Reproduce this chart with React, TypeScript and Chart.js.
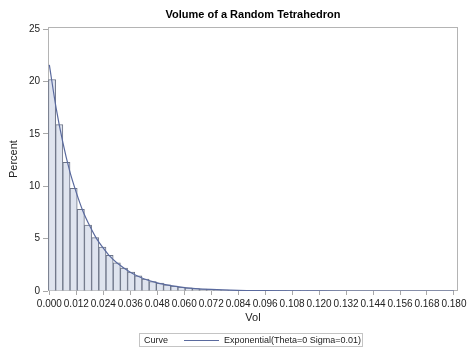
import React, { useEffect, useRef } from "react";
import { Chart, registerables } from "chart.js";

Chart.register(...registerables);

const titleText = "Volume of a Random Tetrahedron";
const xAxisTitle = "Vol";
const yAxisTitle = "Percent";
const legendTitle = "Curve";
const curveLabel = "Exponential(Theta=0 Sigma=0.01)";

// histogram bin midpoints (Vol) and percents
const binMidpoints = [
  0.0012, 0.0044, 0.0076, 0.0108, 0.014, 0.0172, 0.0204, 0.0236, 0.0268, 0.03,
  0.0332, 0.0364, 0.0396, 0.0428, 0.046, 0.0492, 0.0524, 0.0556, 0.0588, 0.062,
  0.0652, 0.0684, 0.0716, 0.0748, 0.078, 0.0812, 0.0844, 0.0876, 0.0908, 0.094,
  0.0972, 0.1004, 0.1036, 0.1068, 0.11, 0.1132,
];
const binPercents = [
  20.2, 15.9, 12.3, 9.8, 7.8, 6.3, 5.1, 4.2, 3.4, 2.7,
  2.2, 1.8, 1.45, 1.15, 0.9, 0.75, 0.6, 0.47, 0.38, 0.3,
  0.24, 0.19, 0.15, 0.12, 0.09, 0.07, 0.055, 0.045, 0.035, 0.027,
  0.02, 0.015, 0.012, 0.009, 0.007, 0.005,
];

// fitted exponential curve
const curveX = [
  0, 0.003, 0.006, 0.009, 0.012, 0.015, 0.018, 0.021, 0.024, 0.027, 0.03,
  0.036, 0.042, 0.048, 0.054, 0.06, 0.072, 0.084, 0.096, 0.108, 0.12, 0.15, 0.18,
];
const curveY = [
  21.6, 17.5, 14.2, 11.5, 9.4, 7.6, 6.2, 5.0, 4.1, 3.3, 2.7,
  1.8, 1.17, 0.77, 0.51, 0.33, 0.15, 0.06, 0.03, 0.01, 0.004, 0.0, 0.0,
];

const xTickValues = [
  0, 0.012, 0.024, 0.036, 0.048, 0.06, 0.072, 0.084, 0.096, 0.108, 0.12,
  0.132, 0.144, 0.156, 0.168, 0.18,
];
const yTickValues = [0, 5, 10, 15, 20, 25];

const FONT = "'Liberation Sans', Arial, sans-serif";

const framePlugin = {
  id: "frame",
  beforeDatasetsDraw(chart: any) {
    const { ctx, chartArea } = chart;
    const { left, top, right, bottom } = chartArea;
    ctx.save();
    ctx.strokeStyle = "#b4b4b4";
    ctx.lineWidth = 1;
    ctx.strokeRect(Math.round(left) + 0.5, Math.round(top) + 0.5, Math.round(right - left) - 1, Math.round(bottom - top) - 1);
    ctx.restore();
  },
};

export default function App() {
  const canvasRef = useRef<HTMLCanvasElement | null>(null);

  useEffect(() => {
    if (!canvasRef.current) return;
    const chart = new Chart(canvasRef.current, {
      type: "bar",
      data: {
        datasets: [
          {
            type: "line",
            label: curveLabel,
            data: curveX.map((x, i) => ({ x, y: curveY[i] })),
            borderColor: "#5a6a9e",
            borderWidth: 1.2,
            pointRadius: 0,
            cubicInterpolationMode: "monotone",
            fill: false,
            order: 0,
          } as any,
          {
            type: "bar",
            label: "Percent",
            data: binMidpoints.map((x, i) => ({ x, y: binPercents[i] })),
            backgroundColor: "#dfe4ef",
            borderColor: "#6c7487",
            borderWidth: 1,
            barPercentage: 1,
            categoryPercentage: 1,
            order: 1,
          } as any,
        ],
      },
      options: {
        animation: false,
        responsive: true,
        maintainAspectRatio: false,
        events: [],
        layout: { padding: { left: 0, right: 16, top: 0, bottom: 0 } },
        plugins: {
          legend: { display: false },
          tooltip: { enabled: false },
          title: {
            display: true,
            fullSize: false,
            text: titleText,
            color: "#000",
            font: { family: FONT, size: 11, weight: "bold" },
            padding: { top: 8, bottom: 6 },
          },
        },
        scales: {
          x: {
            type: "linear",
            min: -0.0006,
            max: 0.1818,
            offset: false,
            afterBuildTicks: (s: any) => {
              s.ticks = xTickValues.map((v) => ({ value: v }));
            },
            afterFit: (s: any) => {
              s.height = 64;
            },
            ticks: {
              callback: (v: any) => Number(v).toFixed(3),
              autoSkip: false,
              maxRotation: 0,
              minRotation: 0,
              color: "#222",
              font: { family: FONT, size: 10 },
              padding: 3,
            },
            grid: {
              display: true,
              drawOnChartArea: false,
              drawTicks: true,
              tickLength: 4,
              color: "#a8a8a8",
              offset: false,
            },
            border: { display: false },
            title: {
              display: true,
              text: xAxisTitle,
              color: "#222",
              font: { family: FONT, size: 11 },
              padding: { top: 0, bottom: 30 },
            },
          },
          y: {
            type: "linear",
            min: 0,
            max: 25.2,
            afterBuildTicks: (s: any) => {
              s.ticks = yTickValues.map((v) => ({ value: v }));
            },
            afterFit: (s: any) => {
              s.width = 48;
            },
            ticks: {
              color: "#222",
              font: { family: FONT, size: 10 },
              padding: 3,
            },
            grid: {
              display: true,
              drawOnChartArea: false,
              drawTicks: true,
              tickLength: 5,
              color: "#a8a8a8",
            },
            border: { display: false },
            title: {
              display: true,
              text: yAxisTitle,
              color: "#222",
              font: { family: FONT, size: 11 },
              padding: { top: 7, bottom: 0 },
            },
          },
        },
      } as any,
      plugins: [framePlugin],
    });
    return () => chart.destroy();
  }, []);

  return (
    <div style={{ position: "absolute", left: 0, top: 0, width: 474, height: 355, background: "#fff" }}>
      <canvas ref={canvasRef} />
      <div
        style={{
          position: "absolute",
          left: 139,
          top: 333,
          width: 224,
          height: 14,
          border: "1px solid #c4c4c4",
          fontFamily: FONT,
          fontSize: 9,
          color: "#222",
          boxSizing: "border-box",
        }}
      >
        <span style={{ position: "absolute", left: 4, top: 0, lineHeight: "12px" }}>{legendTitle}</span>
        <span
          style={{
            position: "absolute",
            left: 44,
            top: 6,
            width: 35,
            height: 0,
            borderTop: "1px solid #5a6a9e",
          }}
        />
        <span style={{ position: "absolute", left: 84, top: 0, lineHeight: "12px", whiteSpace: "nowrap" }}>{curveLabel}</span>
      </div>
    </div>
  );
}
